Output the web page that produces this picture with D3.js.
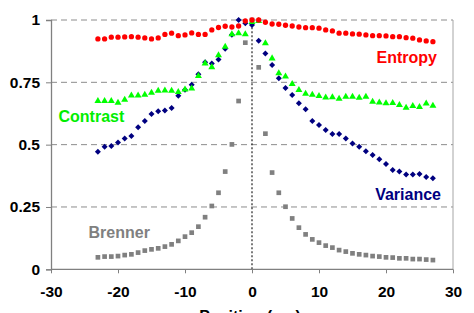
<!DOCTYPE html>
<html>
<head>
<meta charset="utf-8">
<script src="https://cdn.jsdelivr.net/npm/d3@7"></script>
<style>
  body { margin: 0; background: #fff; }
  text { font-family: "Liberation Sans", Arial, sans-serif; font-weight: bold; }
</style>
</head>
<body>
<div id="chart"></div>
<script>
// data
const positions = [-23,-22,-21,-20,-19,-18,-17,-16,-15,-14,-13,-12,-11,-10,-9,-8,-7,-6,-5,-4,-3,-2,-1,
  0,1,2,3,4,5,6,7,8,9,10,11,12,13,14,15,16,17,18,19,20,21,22,23,24,25,26,27]

const entropy = [0.924,0.924,0.931,0.931,0.932,0.933,0.931,0.928,0.924,0.928,0.942,0.947,0.937,0.940,0.948,0.942,0.942,0.960,0.970,0.975,0.972,0.976,0.996,
  1.000,1.000,0.991,0.984,0.983,0.979,0.976,0.972,0.969,0.969,0.967,0.960,0.956,0.947,0.947,0.944,0.943,0.940,0.937,0.937,0.936,0.933,0.933,0.929,0.927,0.920,0.916,0.913]

const contrast = [0.675,0.675,0.675,0.668,0.680,0.697,0.697,0.700,0.708,0.716,0.717,0.716,0.711,0.721,0.725,0.775,0.826,0.811,0.859,0.893,0.943,0.947,0.943,
  0.992,0.996,0.907,0.846,0.786,0.773,0.743,0.719,0.704,0.700,0.695,0.689,0.690,0.684,0.692,0.692,0.688,0.692,0.672,0.669,0.666,0.667,0.659,0.648,0.655,0.651,0.665,0.656]

const variance = [0.472,0.492,0.495,0.509,0.525,0.535,0.570,0.595,0.623,0.634,0.637,0.647,0.696,0.720,0.740,0.782,0.831,0.826,0.842,0.885,0.941,1.000,0.987,
  0.980,0.917,0.866,0.819,0.766,0.727,0.699,0.666,0.642,0.595,0.579,0.559,0.543,0.543,0.525,0.505,0.492,0.474,0.458,0.441,0.422,0.398,0.392,0.380,0.380,0.382,0.370,0.365]

const brenner = [0.048,0.051,0.051,0.053,0.057,0.060,0.067,0.075,0.080,0.084,0.091,0.100,0.114,0.131,0.147,0.171,0.209,0.254,0.307,0.392,0.501,0.675,0.909,
  1.000,0.810,0.544,0.388,0.307,0.251,0.204,0.167,0.140,0.120,0.107,0.095,0.087,0.077,0.071,0.064,0.060,0.057,0.053,0.051,0.048,0.047,0.044,0.044,0.041,0.041,0.039,0.037]

const xTicks = [-30, -20, -10, 0, 10, 20, 30]
const yTicks = [0, 0.25, 0.5, 0.75, 1]
const yTickLabels = ["0", "0.25", "0.5", "0.75", "1"]
const xTitle = "Position (µm)"

const width = 474
const height = 313

const svg = d3.select("#chart")
  .append("svg")
    .attr("width", width)
    .attr("height", height)

const xScale = d3.scaleLinear()
  .domain([-30, 30])
  .range([51, 453])

const yScale = d3.scaleLinear()
  .domain([0, 1])
  .range([269.3, 20])

// grid lines
svg.append("g")
  .selectAll("line")
  .data(yTicks.filter(d => d > 0))
  .join("line")
    .attr("x1", xScale(-30))
    .attr("x2", xScale(30))
    .attr("y1", d => yScale(d))
    .attr("y2", d => yScale(d))
    .attr("stroke", "#8c8c8c")
    .attr("stroke-width", 1)
    .attr("stroke-dasharray", "6 4")

// right border of plot area
svg.append("line")
  .attr("x1", xScale(30))
  .attr("x2", xScale(30))
  .attr("y1", yScale(0))
  .attr("y2", yScale(1))
  .attr("stroke", "#a6a6a6")

// zero line
svg.append("line")
  .attr("x1", xScale(0))
  .attr("x2", xScale(0))
  .attr("y1", yScale(0))
  .attr("y2", yScale(1))
  .attr("stroke", "#222")
  .attr("stroke-width", 1.2)
  .attr("stroke-dasharray", "2 2")

// axes
const xAxis = svg.append("g")
  .attr("transform", `translate(0,${yScale(0)})`)
  .call(d3.axisBottom(xScale).tickValues(xTicks).tickSize(4).tickPadding(13).tickFormat(d => String(d)))
const yAxis = svg.append("g")
  .attr("transform", `translate(${xScale(-30)},0)`)
  .call(d3.axisLeft(yScale).tickValues(yTicks).tickSize(5).tickPadding(6)
    .tickFormat((d, i) => yTickLabels[i]))

svg.selectAll(".domain").attr("stroke", "#808080").attr("stroke-width", 1.3)
svg.selectAll(".tick line").attr("stroke", "#808080")
svg.selectAll(".tick text")
  .attr("fill", "#000")
  .style("font-size", "15.5px")
  .style("font-family", "'Liberation Sans', Arial, sans-serif")
  .style("font-weight", "bold")
xAxis.select(".domain").attr("d", `M${xScale(-30)},0H${xScale(30)}`)

// axis title, cut by the bottom edge as in the source image
svg.append("text")
  .attr("x", 250)
  .attr("y", 322)
  .attr("text-anchor", "middle")
  .style("font-size", "16px")
  .text(xTitle)

// series
const series = [
  { name: "Brenner", values: brenner, color: "#808080", symbol: d3.symbolSquare, size: 22, rotate: 0 },
  { name: "Variance", values: variance, color: "#000080", symbol: d3.symbolSquare, size: 18, rotate: 45 },
  { name: "Contrast", values: contrast, color: "#00ff00", symbol: d3.symbolTriangle, size: 21, rotate: 0 },
  { name: "Entropy", values: entropy, color: "#ff0000", symbol: d3.symbolCircle, size: 22, rotate: 0 },
]

series.forEach(s => {
  const gen = d3.symbol().type(s.symbol).size(s.size)
  svg.append("g")
    .selectAll("path")
    .data(positions)
    .join("path")
      .attr("d", gen)
      .attr("transform", (d, i) => `translate(${xScale(d)},${yScale(s.values[i])}) rotate(${s.rotate})`)
      .attr("fill", s.color)
})

// series labels
const labels = [
  { text: "Entropy", x: 437, y: 62.5, anchor: "end", color: "#ff0000" },
  { text: "Contrast", x: 58.5, y: 122, anchor: "start", color: "#00ee00" },
  { text: "Variance", x: 441, y: 200, anchor: "end", color: "#000080" },
  { text: "Brenner", x: 88.5, y: 237.5, anchor: "start", color: "#808080" },
]
svg.append("g")
  .selectAll("text")
  .data(labels)
  .join("text")
    .attr("x", d => d.x)
    .attr("y", d => d.y)
    .attr("text-anchor", d => d.anchor)
    .attr("fill", d => d.color)
    .style("font-size", "16px")
    .text(d => d.text)
</script>
</body>
</html>
